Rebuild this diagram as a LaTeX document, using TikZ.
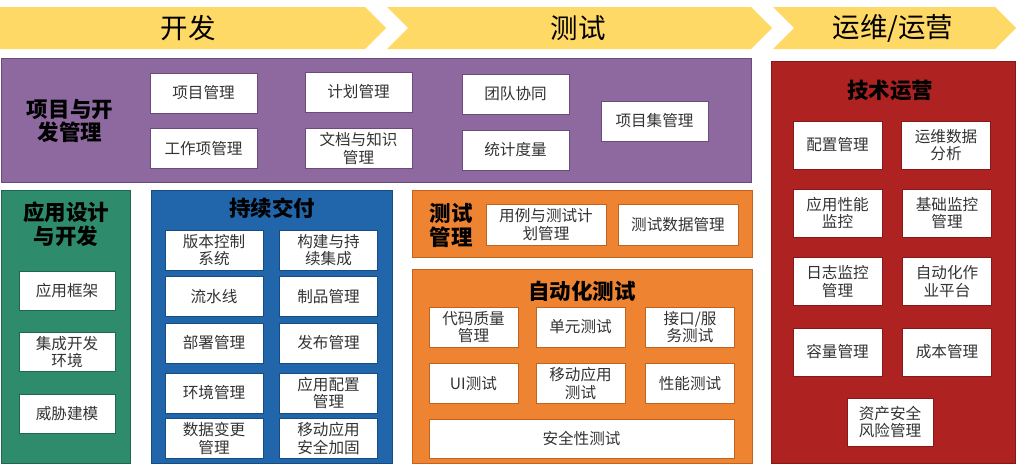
\documentclass[tikz,border=0pt]{standalone}
\usepackage{fontspec}
\setmainfont{Noto Sans CJK SC}
\usetikzlibrary{positioning}
\definecolor{cyellow}{HTML}{FFD966}
\definecolor{cpurple}{HTML}{8E69A0}
\definecolor{cpurpleb}{HTML}{6B4A7E}
\definecolor{cred}{HTML}{AE2222}
\definecolor{credb}{HTML}{861818}
\definecolor{cgreen}{HTML}{2E8C6D}
\definecolor{cgreenb}{HTML}{1E6650}
\definecolor{cblue}{HTML}{2166AA}
\definecolor{cblueb}{HTML}{174C82}
\definecolor{corange}{HTML}{EE8332}
\definecolor{corangeb}{HTML}{C0631E}
\definecolor{ctext}{HTML}{333333}
\tikzset{
  wb/.style={draw=#1, line width=0.8pt, fill=white, inner sep=0pt, align=center,
    text=ctext, font=\fontsize{15.6}{17.5}\selectfont},
  wb/.default=gray,
  grp/.style={line width=1pt},
  hdr/.style={inner sep=0pt, align=center, text=black,
    font=\fontsize{21.5}{23.5}\selectfont\bfseries},
  bantext/.style={inner sep=0pt, text=black, font=\fontsize{27.5}{29}\selectfont},
}
\begin{document}
\begin{tikzpicture}[x=1pt,y=-1pt]
\useasboundingbox (0,0) rectangle (1016,467);
\fill[white] (0,0) rectangle (1016,467);
% banner chevrons
\fill[cyellow] (0,7) -- (365,7) -- (386,28) -- (365,49) -- (0,49) -- cycle;
\fill[cyellow] (387,7) -- (751,7) -- (772,28) -- (751,49) -- (387,49) -- (408,28) -- cycle;
\fill[cyellow] (773,7) -- (995,7) -- (1016,28) -- (995,49) -- (773,49) -- (794,28) -- cycle;
\node[bantext] (bdev) at (188,28) {开发};
\node[bantext] (btest) at (578,28) {测试};
\node[bantext] (bops) at (893,28) {运维/运营};

% purple group
\draw[grp, fill=cpurple, draw=cpurpleb] (1,58) rectangle (751,182);
\node[hdr] (hpm) at (70,121) {项目与开\\发管理};
\begin{scope}[every node/.style={wb=cpurpleb, minimum width=107pt, minimum height=40pt}]
\node (pm1) at (203.5,93) {项目管理};
\node (pm2) at (203.5,148.5) {工作项管理};
\node (pm3) at (358.5,92) {计划管理};
\node (pm4) at (358.5,148.5) {文档与知识\\管理};
\node (pm5) at (515.5,94) {团队协同};
\node (pm6) at (515.5,150) {统计度量};
\node (pm7) at (654.5,121) {项目集管理};
\end{scope}

% red group
\draw[grp, fill=cred, draw=credb] (771,61) rectangle (1015,463);
\node[hdr] (hops) at (890,90) {技术运营};
\begin{scope}[every node/.style={wb=credb, minimum width=89pt, minimum height=48pt}]
\node (op1) at (837.5,145) {配置管理};
\node (op2) at (946,145) {运维数据\\分析};
\node (op3) at (837.5,213) {应用性能\\监控};
\node (op4) at (947,213) {基础监控\\管理};
\node (op5) at (837.5,281.5) {日志监控\\管理};
\node (op6) at (947,281.5) {自动化作\\业平台};
\node (op7) at (837.5,352) {容量管理};
\node (op8) at (947,352) {成本管理};
\node[minimum width=86pt] (op9) at (890,422) {资产安全\\风险管理};
\end{scope}

% green group
\draw[grp, fill=cgreen, draw=cgreenb] (1,190) rectangle (130,463);
\node[hdr] (happ) at (66,224) {应用设计\\与开发};
\begin{scope}[every node/.style={wb=cgreenb, minimum width=96pt, minimum height=39pt}]
\node (ap1) at (67,290.5) {应用框架};
\node (ap2) at (67,352) {集成开发\\环境};
\node (ap3) at (67,413.5) {威胁建模};
\end{scope}

% blue group
\draw[grp, fill=cblue, draw=cblueb] (151,190) rectangle (392,463);
\node[hdr] (hcd) at (272,208) {持续交付};
\begin{scope}[every node/.style={wb=cblueb, minimum width=98pt, minimum height=40pt}]
\node (cd1) at (214,250) {版本控制\\系统};
\node (cd2) at (328.5,250) {构建与持\\续集成};
\node (cd3) at (214,296.5) {流水线};
\node (cd4) at (328.5,296.5) {制品管理};
\node (cd5) at (214,343) {部署管理};
\node (cd6) at (328.5,343) {发布管理};
\node (cd7) at (214,393) {环境管理};
\node (cd8) at (328.5,393) {应用配置\\管理};
\node (cd9) at (214,438.5) {数据变更\\管理};
\node (cd10) at (328.5,438.5) {移动应用\\安全加固};
\end{scope}

% orange: test management
\draw[grp, fill=corange, draw=corangeb] (412,190) rectangle (752,257);
\node[hdr] (htm) at (451,225.5) {测试\\管理};
\begin{scope}[every node/.style={wb=corangeb, minimum width=120pt, minimum height=41pt}]
\node (tm1) at (546,224.5) {用例与测试计\\划管理};
\node (tm2) at (678,224.5) {测试数据管理};
\end{scope}

% orange: automated testing
\draw[grp, fill=corange, draw=corangeb] (412,269) rectangle (752,463);
\node[hdr] (hat) at (582,291) {自动化测试};
\begin{scope}[every node/.style={wb=corangeb, minimum width=89pt, minimum height=40pt}]
\node (at1) at (473.5,327) {代码质量\\管理};
\node (at2) at (580.5,327) {单元测试};
\node (at3) at (690,327) {接口/服\\务测试};
\node (at4) at (473.5,383.5) {UI测试};
\node (at5) at (580.5,383.5) {移动应用\\测试};
\node (at6) at (690,383.5) {性能测试};
\node[minimum width=305pt, minimum height=39pt] (at7) at (581.5,438.5) {安全性测试};
\end{scope}
\end{tikzpicture}
\end{document}
